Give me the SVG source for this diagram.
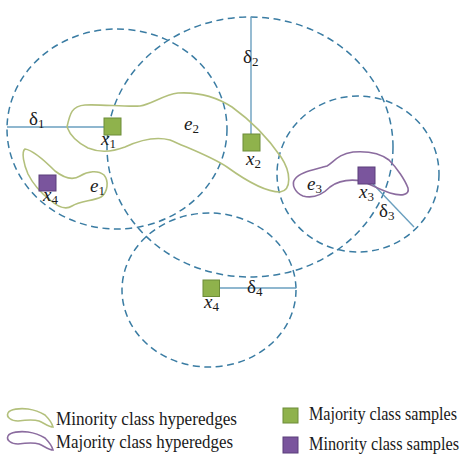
<svg xmlns="http://www.w3.org/2000/svg" width="474" height="474" viewBox="0 0 474 474">
<style>
.ring{fill:none;stroke:#3a7ca3;stroke-width:1.5;stroke-dasharray:7 4.5}
.rad{stroke:#6a9fbf;stroke-width:1.4;fill:none}
.he-g{fill:none;stroke:#b3c07c;stroke-width:1.6}
.he-p{fill:none;stroke:#8b6c9f;stroke-width:1.6}
.sq-g{fill:#8fb24c;stroke:#6d8c38;stroke-width:1}
.sq-p{fill:#7a559d;stroke:#5a3e7b;stroke-width:1}
.lab{font-family:"Liberation Serif",serif;font-style:italic;font-size:19px;fill:#1a1a1a}
.del{font-family:"Liberation Serif",serif;font-size:19px;fill:#1a1a1a}
.sub{font-size:13px;font-style:normal}
.leg{font-family:"Liberation Serif",serif;font-size:18px;fill:#1a1a1a}
</style>
<g id="connectors">
<ellipse class="ring" cx="117" cy="129" rx="110" ry="100"/>
<ellipse class="ring" cx="250" cy="147" rx="143" ry="130"/>
<ellipse class="ring" cx="358" cy="174" rx="81" ry="78"/>
<ellipse class="ring" cx="209" cy="290" rx="87" ry="77"/>
<line class="rad" x1="7" y1="127" x2="104" y2="127"/>
<line class="rad" x1="251" y1="17" x2="251" y2="134"/>
<line class="rad" x1="372" y1="183" x2="414" y2="227"/>
<line class="rad" x1="219" y1="288" x2="296" y2="288"/>
</g>
<g id="e1">
<path class="he-g" d="M25,149 C32,150 44,160 55,171 C64,178 72,181 80,176 C88,171 98,170 104,175 C109,181 108,192 101,197 C93,201 80,201 72,206 C66,210 58,207 50,200 C41,193 33,184 28,174 C24,165 21,152 25,149 Z"/>
<text class="lab" x="90" y="192">e<tspan class="sub" dy="3">1</tspan></text>
</g>
<g id="e2">
<path class="he-g" d="M67,127 C70,113 72,106 85,105 C100,104 125,107 140,106 C152,104 163,95 178,93 C195,92 215,96 232,107 C250,120 268,138 281,157 C291,172 292,190 280,192 C265,192 245,180 227,167 C210,156 190,149 170,140 C155,136 138,141 125,147 C112,152 100,153 88,148 C78,143 70,135 67,127 Z"/>
<text class="lab" x="184" y="130">e<tspan class="sub" dy="3">2</tspan></text>
</g>
<g id="e3">
<path class="he-p" d="M295,179 C300,172 314,170 327,166 C334,162 338,154 353,152 C366,151 380,153 389,160 C397,168 405,180 408,188 C410,196 400,196 390,193 C380,190 372,185 362,181 C350,179 338,181 330,187 C322,195 314,199 303,196 C295,193 291,184 295,179 Z"/>
<text class="lab" x="307" y="190">e<tspan class="sub" dy="3">3</tspan></text>
</g>
<g id="x1">
<rect class="sq-g" x="104" y="118" width="17" height="17"/>
<text class="lab" x="101" y="145">x<tspan class="sub" dy="3">1</tspan></text>
<text class="del" x="29" y="125">δ<tspan class="sub" dy="3">1</tspan></text>
</g>
<g id="x2">
<rect class="sq-g" x="243" y="134" width="17" height="17"/>
<text class="lab" x="246" y="165">x<tspan class="sub" dy="3">2</tspan></text>
<text class="del" x="243" y="63">δ<tspan class="sub" dy="3">2</tspan></text>
</g>
<g id="x3">
<rect class="sq-p" x="358" y="167" width="17" height="17"/>
<text class="lab" x="359" y="198">x<tspan class="sub" dy="3">3</tspan></text>
<text class="del" x="379" y="217">δ<tspan class="sub" dy="3">3</tspan></text>
</g>
<g id="x4-minority">
<rect class="sq-p" x="39" y="175" width="17" height="16"/>
<text class="lab" x="43" y="201">x<tspan class="sub" dy="3">4</tspan></text>
</g>
<g id="x4-majority">
<rect class="sq-g" x="203" y="280" width="16.5" height="16.5"/>
<text class="lab" x="204" y="308">x<tspan class="sub" dy="3">4</tspan></text>
<text class="del" x="247" y="293">δ<tspan class="sub" dy="3">4</tspan></text>
</g>
<g id="legend">
<path class="he-g" d="M8,413 C10,409 20,408 28,409 C35,410 40,412 45,415 C49,419 52,423 53,427 C49,427 44,423 39,421 C33,419 25,420 18,421 C11,421 6,417 8,413 Z"/>
<text class="leg" x="56" y="425" textLength="181" lengthAdjust="spacingAndGlyphs">Minority class hyperedges</text>
<path class="he-p" d="M8,436 C10,432 20,431 28,432 C35,433 40,435 45,438 C49,442 52,446 53,450 C49,450 44,446 39,444 C33,442 25,443 18,444 C11,444 6,440 8,436 Z"/>
<text class="leg" x="56" y="448" textLength="177" lengthAdjust="spacingAndGlyphs">Majority class hyperedges</text>
<rect class="sq-g" x="283" y="408" width="15" height="15"/>
<text class="leg" x="309" y="420" font-size="17" textLength="148" lengthAdjust="spacingAndGlyphs">Majority class samples</text>
<rect class="sq-p" x="283" y="437" width="15" height="16"/>
<text class="leg" x="309" y="450" font-size="17" textLength="150" lengthAdjust="spacingAndGlyphs">Minority class samples</text>
</g>
</svg>
